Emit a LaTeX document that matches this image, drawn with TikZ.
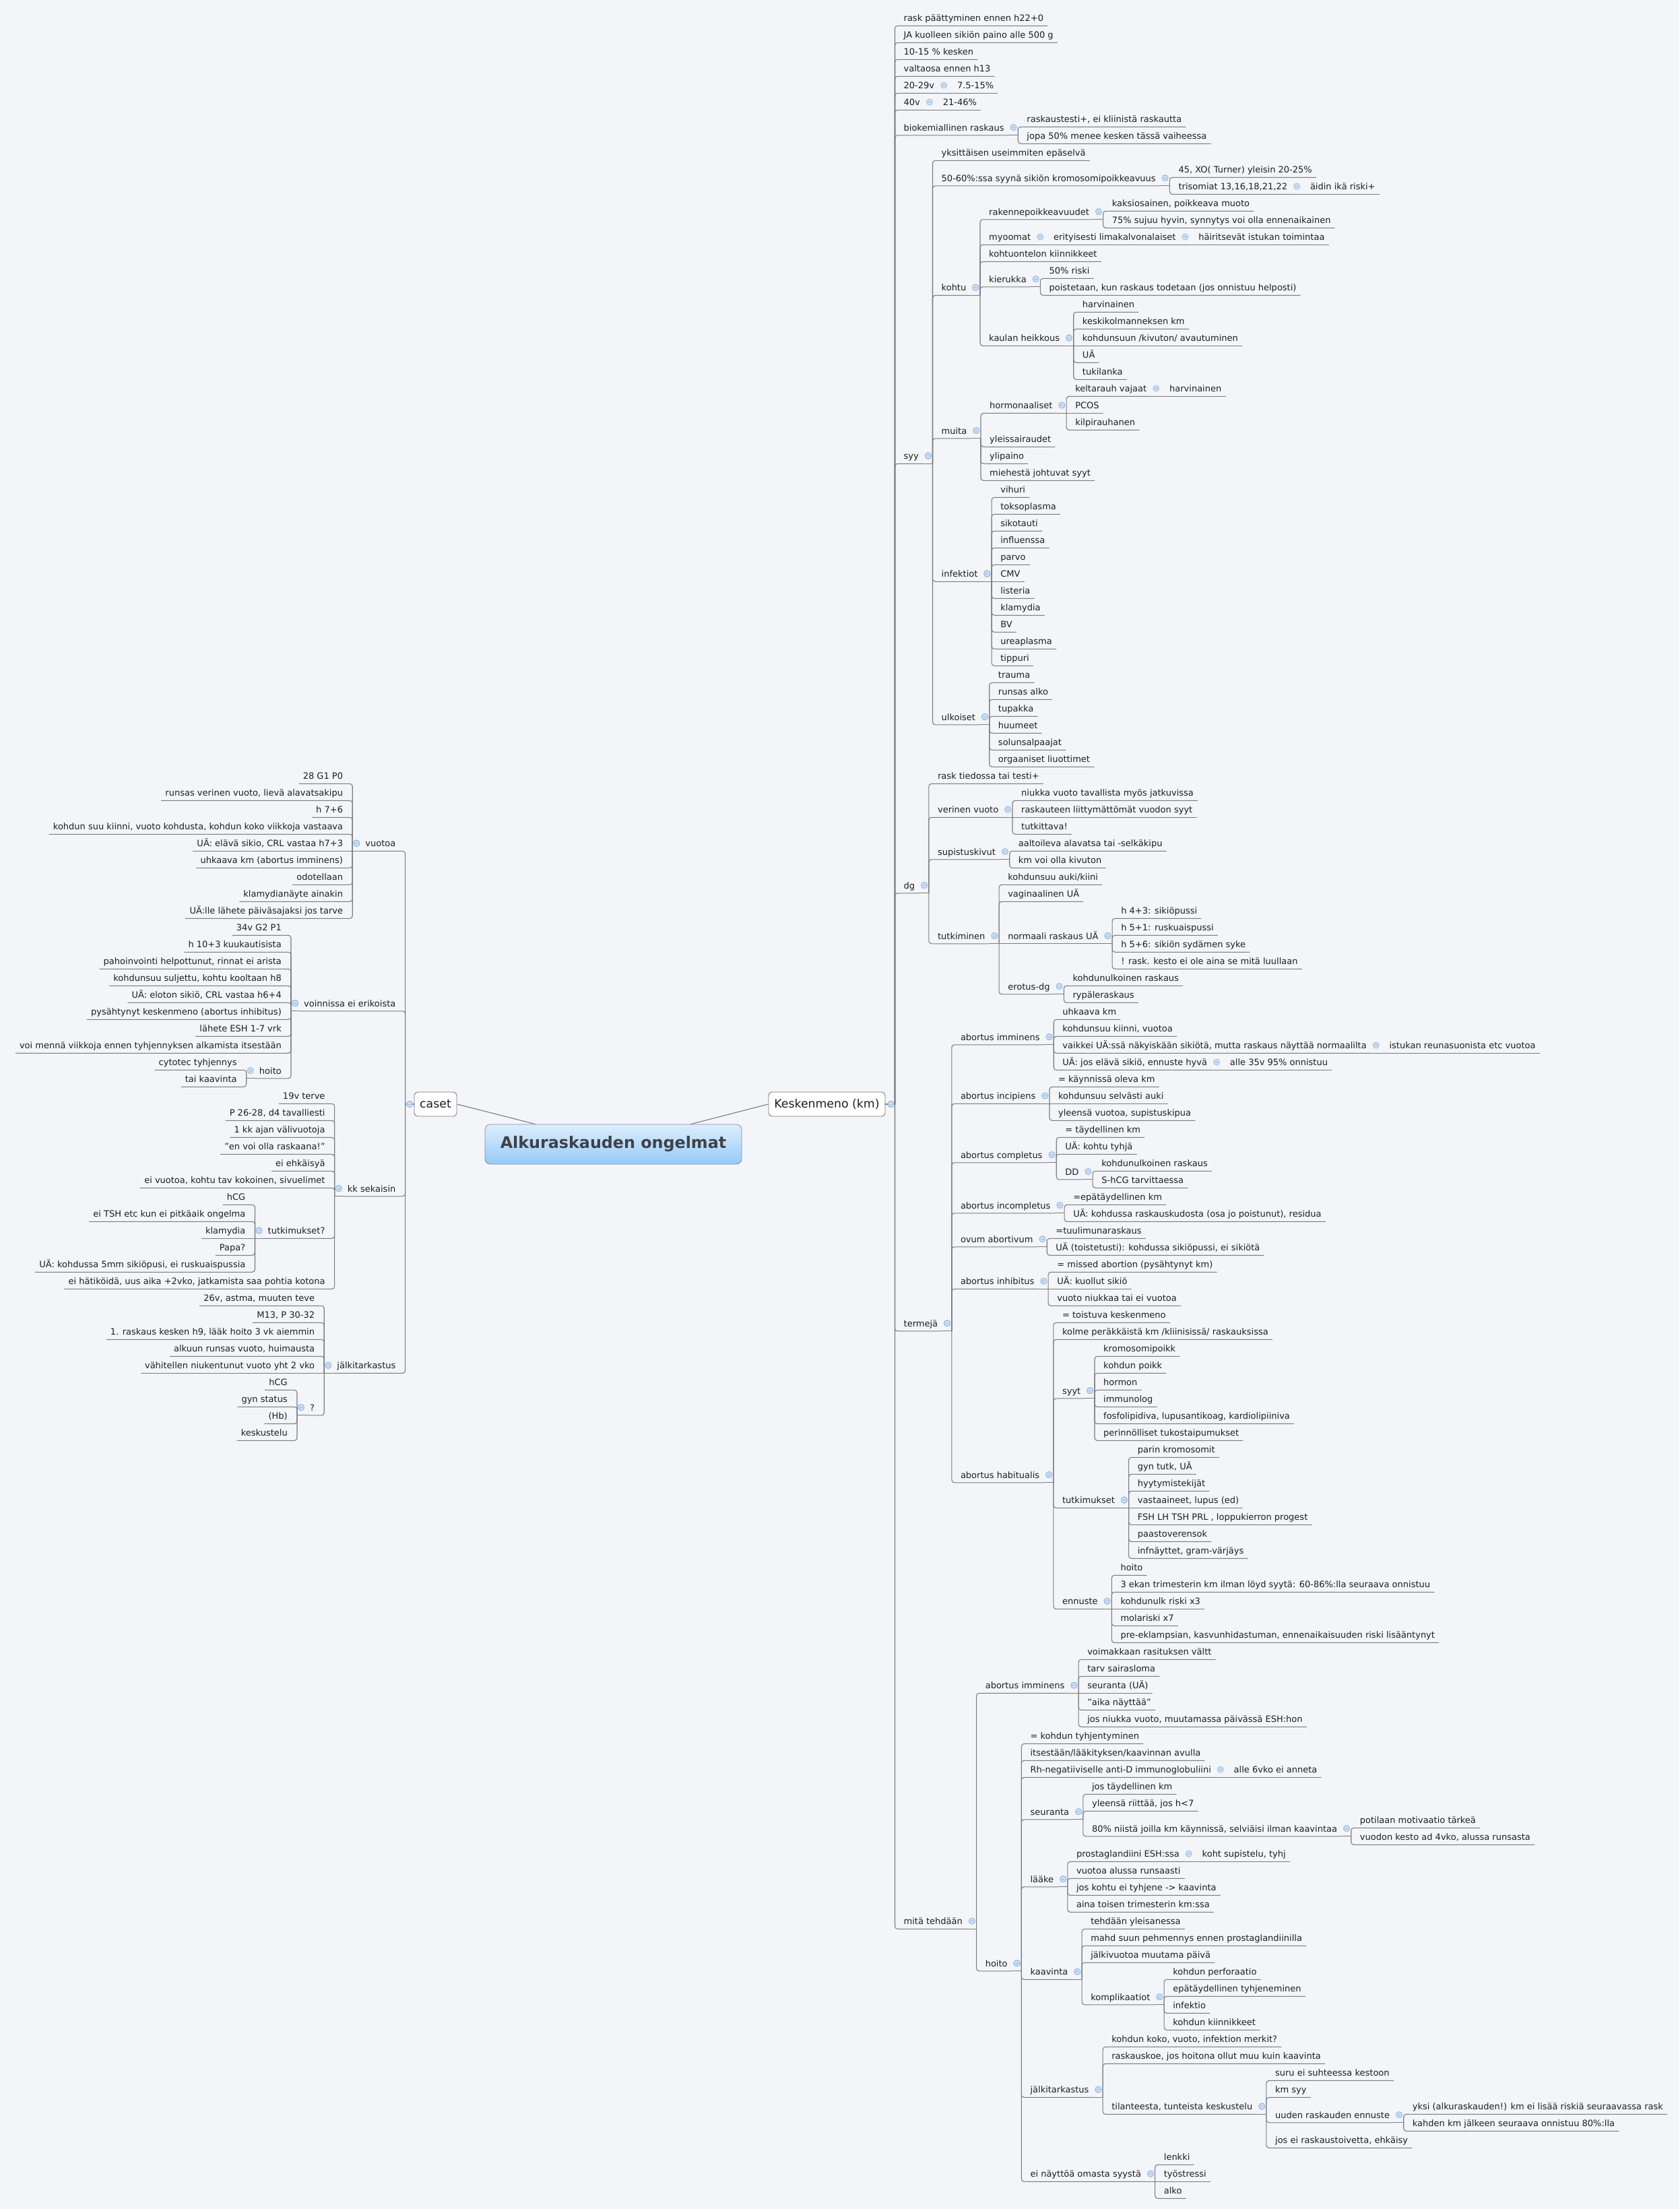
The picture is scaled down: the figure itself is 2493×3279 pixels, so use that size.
\documentclass[tikz,border=0pt]{standalone}
\usepackage{fontspec}
\setmainfont{DejaVu Sans}
\usetikzlibrary{calc}
\definecolor{bgcol}{RGB}{243,245,249}
\definecolor{lcol}{RGB}{125,125,125}
\definecolor{tcol}{RGB}{30,30,30}
\definecolor{mkfill}{RGB}{205,223,246}
\definecolor{mkdraw}{RGB}{150,180,224}
\definecolor{roottop}{RGB}{222,238,252}
\definecolor{rootbot}{RGB}{150,202,247}
\definecolor{rootdraw}{RGB}{115,145,180}
\definecolor{roottext}{RGB}{62,66,74}
\definecolor{boxdraw}{RGB}{120,120,120}
\tikzset{
 topic/.style={font=\fontsize{13.0pt}{16pt}\selectfont, inner sep=0pt, text=tcol},
 conn/.style={draw=lcol, line width=1.1pt},
 markc/.style={circle, inner sep=0pt, minimum size=9pt, fill=mkfill, draw=mkdraw, line width=0.7pt},
 rootbox/.style={rounded corners=8pt, top color=roottop, bottom color=rootbot, draw=rootdraw, line width=0.8pt, minimum width=381pt, minimum height=59pt, inner sep=0pt, font=\fontsize{23.8pt}{28pt}\selectfont\bfseries, text=roottext},
 topbox/.style={rounded corners=5pt, fill=white, draw=boxdraw, line width=0.9pt, minimum height=36pt, inner sep=0pt, font=\fontsize{17.3pt}{20pt}\selectfont, text=tcol}
}
\newcommand\mmlink[3]{%
  \ifdim #3pt=\csname kk#1\endcsname pt
    \draw[conn] (#1-b) -- (#2-u);
  \else
    \draw[conn,rounded corners=4pt] (#1-b) |- (#2-u);
  \fi
  \draw[conn] (#1-u) -- (#1-b);
  \node[markc] at (#1-c) {};
  \draw[mkdraw,line width=0.6pt] ($(#1-c)+(-2pt,0)$) -- ($(#1-c)+(2pt,0)$);
  \expandafter\gdef\csname kk#2\endcsname{#3}%
}
\newcommand\addR[4]{%
  \path let \p1=(#1-b) in node[topic,anchor=base west] (#2) at (\x1+13pt,{-(31.6+25*#3)*1pt}) {#4};
  \coordinate (#2-u) at ($(#2.base east)+(6pt,-6.7pt)$);
  \coordinate (#2-b) at ($(#2.base east)+(20.5pt,-6.7pt)$);
  \coordinate (#2-c) at ($(#2.base east)+(13.8pt,5pt)$);
  \mmlink{#1}{#2}{#3}%
}
\newcommand\addL[4]{%
  \path let \p1=(#1-b) in node[topic,anchor=base east] (#2) at (\x1-14pt,{-(31.6+25*#3)*1pt}) {#4};
  \coordinate (#2-u) at ($(#2.base west)+(-6pt,-6.7pt)$);
  \coordinate (#2-b) at ($(#2.base west)+(-19pt,-6.7pt)$);
  \coordinate (#2-c) at ($(#2.base west)+(-13pt,5pt)$);
  \mmlink{#1}{#2}{#3}%
}
\begin{document}
\begin{tikzpicture}
\fill[bgcol] (0pt,0pt) rectangle (2493pt,-3279pt);
\useasboundingbox (0pt,0pt) rectangle (2493pt,-3279pt);

\node[rootbox] (root) at (910.5pt,-1698.5pt) {Alkuraskauden ongelmat};
\node[topbox, minimum width=63pt] (cas) at (646.5pt,-1639pt) {caset};
\node[topbox, minimum width=173pt] (kes) at (1227.5pt,-1639pt) {Keskenmeno (km)};
\draw[conn] (cas.east) -- ($(root.north west)+(75pt,0)$);
\draw[conn] (kes.west) -- ($(root.north west)+(306pt,0)$);

\coordinate (K-u) at (kes.east);
\coordinate (K-b) at ($(kes.east)+(14pt,0)$);
\coordinate (K-c) at ($(kes.east)+(8pt,0)$);
\gdef\kkK{999}
\coordinate (C-u) at (cas.west);
\coordinate (C-b) at ($(cas.west)+(-13pt,0)$);
\coordinate (C-c) at ($(cas.west)+(-6.5pt,0)$);
\gdef\kkC{999}

% ---------------- right side ----------------
\addR{K}{r1}{0}{rask päättyminen ennen h22+0}
\addR{K}{r2}{1}{JA kuolleen sikiön paino alle 500 g}
\addR{K}{r3}{2}{10-15 \% kesken}
\addR{K}{r4}{3}{valtaosa ennen h13}
\addR{K}{r5}{4}{20-29v}
\addR{r5}{r5a}{4}{7.5-15\%}
\addR{K}{r6}{5}{40v}
\addR{r6}{r6a}{5}{21-46\%}
\addR{K}{r7}{6.5}{biokemiallinen raskaus}
\addR{r7}{r7a}{6}{raskaustesti+, ei kliinistä raskautta}
\addR{r7}{r7b}{7}{jopa 50\% menee kesken tässä vaiheessa}

\addR{K}{sy}{26}{syy}
\addR{sy}{syA}{8}{yksittäisen useimmiten epäselvä}
\addR{sy}{syB}{9.5}{50-60\%:ssa syynä sikiön kromosomipoikkeavuus}
\addR{syB}{syBa}{9}{45, XO( Turner) yleisin 20-25\%}
\addR{syB}{syBb}{10}{trisomiat 13,16,18,21,22}
\addR{syBb}{syBc}{10}{äidin ikä riski+}
\addR{sy}{ko}{16}{kohtu}
\addR{ko}{koA}{11.5}{rakennepoikkeavuudet}
\addR{koA}{koAa}{11}{kaksiosainen, poikkeava muoto}
\addR{koA}{koAb}{12}{75\% sujuu hyvin, synnytys voi olla ennenaikainen}
\addR{ko}{koB}{13}{myoomat}
\addR{koB}{koBa}{13}{erityisesti limakalvonalaiset}
\addR{koBa}{koBb}{13}{häiritsevät istukan toimintaa}
\addR{ko}{koC}{14}{kohtuontelon kiinnikkeet}
\addR{ko}{koD}{15.5}{kierukka}
\addR{koD}{koDa}{15}{50\% riski}
\addR{koD}{koDb}{16}{poistetaan, kun raskaus todetaan (jos onnistuu helposti)}
\addR{ko}{koE}{19}{kaulan heikkous}
\addR{koE}{koEa}{17}{harvinainen}
\addR{koE}{koEb}{18}{keskikolmanneksen km}
\addR{koE}{koEc}{19}{kohdunsuun /kivuton/ avautuminen}
\addR{koE}{koEd}{20}{UÄ}
\addR{koE}{koEe}{21}{tukilanka}
\addR{sy}{mu}{24.5}{muita}
\addR{mu}{muA}{23}{hormonaaliset}
\addR{muA}{muAa}{22}{keltarauh vajaat}
\addR{muAa}{muAb}{22}{harvinainen}
\addR{muA}{muAc}{23}{PCOS}
\addR{muA}{muAd}{24}{kilpirauhanen}
\addR{mu}{muB}{25}{yleissairaudet}
\addR{mu}{muC}{26}{ylipaino}
\addR{mu}{muD}{27}{miehestä johtuvat syyt}
\addR{sy}{inf}{33}{infektiot}
\addR{inf}{infa}{28}{vihuri}
\addR{inf}{infb}{29}{toksoplasma}
\addR{inf}{infc}{30}{sikotauti}
\addR{inf}{infd}{31}{influenssa}
\addR{inf}{infe}{32}{parvo}
\addR{inf}{inff}{33}{CMV}
\addR{inf}{infg}{34}{listeria}
\addR{inf}{infh}{35}{klamydia}
\addR{inf}{infi}{36}{BV}
\addR{inf}{infj}{37}{ureaplasma}
\addR{inf}{infk}{38}{tippuri}
\addR{sy}{ul}{41.5}{ulkoiset}
\addR{ul}{ula}{39}{trauma}
\addR{ul}{ulb}{40}{runsas alko}
\addR{ul}{ulc}{41}{tupakka}
\addR{ul}{uld}{42}{huumeet}
\addR{ul}{ule}{43}{solunsalpaajat}
\addR{ul}{ulf}{44}{orgaaniset liuottimet}

\addR{K}{dg}{51.5}{dg}
\addR{dg}{dgA}{45}{rask tiedossa tai testi+}
\addR{dg}{dgB}{47}{verinen vuoto}
\addR{dgB}{dgBa}{46}{niukka vuoto tavallista myös jatkuvissa}
\addR{dgB}{dgBb}{47}{raskauteen liittymättömät vuodon syyt}
\addR{dgB}{dgBc}{48}{tutkittava!}
\addR{dg}{dgC}{49.5}{supistuskivut}
\addR{dgC}{dgCa}{49}{aaltoileva alavatsa tai -selkäkipu}
\addR{dgC}{dgCb}{50}{km voi olla kivuton}
\addR{dg}{dgD}{54.5}{tutkiminen}
\addR{dgD}{dgDa}{51}{kohdunsuu auki/kiini}
\addR{dgD}{dgDb}{52}{vaginaalinen UÄ}
\addR{dgD}{dgDc}{54.5}{normaali raskaus UÄ}
\addR{dgDc}{nrA}{53}{h 4+3: sikiöpussi}
\addR{dgDc}{nrB}{54}{h 5+1: ruskuaispussi}
\addR{dgDc}{nrC}{55}{h 5+6: sikiön sydämen syke}
\addR{dgDc}{nrD}{56}{! rask. kesto ei ole aina se mitä luullaan}
\addR{dgD}{dgDd}{57.5}{erotus-dg}
\addR{dgDd}{edA}{57}{kohdunulkoinen raskaus}
\addR{dgDd}{edB}{58}{rypäleraskaus}

\addR{K}{te}{77.5}{termejä}
\addR{te}{tA}{60.5}{abortus imminens}
\addR{tA}{tAa}{59}{uhkaava km}
\addR{tA}{tAb}{60}{kohdunsuu kiinni, vuotoa}
\addR{tA}{tAc}{61}{vaikkei UÄ:ssä näkyiskään sikiötä, mutta raskaus näyttää normaalilta}
\addR{tAc}{tAd}{61}{istukan reunasuonista etc vuotoa}
\addR{tA}{tAe}{62}{UÄ: jos elävä sikiö, ennuste hyvä}
\addR{tAe}{tAf}{62}{alle 35v 95\% onnistuu}
\addR{te}{tB}{64}{abortus incipiens}
\addR{tB}{tBa}{63}{= käynnissä oleva km}
\addR{tB}{tBb}{64}{kohdunsuu selvästi auki}
\addR{tB}{tBc}{65}{yleensä vuotoa, supistuskipua}
\addR{te}{tC}{67.5}{abortus completus}
\addR{tC}{tCa}{66}{= täydellinen km}
\addR{tC}{tCb}{67}{UÄ: kohtu tyhjä}
\addR{tC}{tCc}{68.5}{DD}
\addR{tCc}{tCd}{68}{kohdunulkoinen raskaus}
\addR{tCc}{tCe}{69}{S-hCG tarvittaessa}
\addR{te}{tD}{70.5}{abortus incompletus}
\addR{tD}{tDa}{70}{=epätäydellinen km}
\addR{tD}{tDb}{71}{UÄ: kohdussa raskauskudosta (osa jo poistunut), residua}
\addR{te}{tE}{72.5}{ovum abortivum}
\addR{tE}{tEa}{72}{=tuulimunaraskaus}
\addR{tE}{tEb}{73}{UÄ (toistetusti): kohdussa sikiöpussi, ei sikiötä}
\addR{te}{tF}{75}{abortus inhibitus}
\addR{tF}{tFa}{74}{= missed abortion (pysähtynyt km)}
\addR{tF}{tFb}{75}{UÄ: kuollut sikiö}
\addR{tF}{tFc}{76}{vuoto niukkaa tai ei vuotoa}
\addR{te}{tG}{86.5}{abortus habitualis}
\addR{tG}{tGa}{77}{= toistuva keskenmeno}
\addR{tG}{tGb}{78}{kolme peräkkäistä km /kliinisissä/ raskauksissa}
\addR{tG}{tGs}{81.5}{syyt}
\addR{tGs}{tGsa}{79}{kromosomipoikk}
\addR{tGs}{tGsb}{80}{kohdun poikk}
\addR{tGs}{tGsc}{81}{hormon}
\addR{tGs}{tGsd}{82}{immunolog}
\addR{tGs}{tGse}{83}{fosfolipidiva, lupusantikoag, kardiolipiiniva}
\addR{tGs}{tGsf}{84}{perinnölliset tukostaipumukset}
\addR{tG}{tGt}{88}{tutkimukset}
\addR{tGt}{tGta}{85}{parin kromosomit}
\addR{tGt}{tGtb}{86}{gyn tutk, UÄ}
\addR{tGt}{tGtc}{87}{hyytymistekijät}
\addR{tGt}{tGtd}{88}{vastaaineet, lupus (ed)}
\addR{tGt}{tGte}{89}{FSH LH TSH PRL , loppukierron progest}
\addR{tGt}{tGtf}{90}{paastoverensok}
\addR{tGt}{tGtg}{91}{infnäyttet, gram-värjäys}
\addR{tG}{tGe}{94}{ennuste}
\addR{tGe}{tGea}{92}{hoito}
\addR{tGe}{tGeb}{93}{3 ekan trimesterin km ilman löyd syytä: 60-86\%:lla seuraava onnistuu}
\addR{tGe}{tGec}{94}{kohdunulk riski x3}
\addR{tGe}{tGed}{95}{molariski x7}
\addR{tGe}{tGee}{96}{pre-eklampsian, kasvunhidastuman, ennenaikaisuuden riski lisääntynyt}

\addR{K}{mt}{113}{mitä tehdään}
\addR{mt}{mA}{99}{abortus imminens}
\addR{mA}{mAa}{97}{voimakkaan rasituksen vältt}
\addR{mA}{mAb}{98}{tarv sairasloma}
\addR{mA}{mAc}{99}{seuranta (UÄ)}
\addR{mA}{mAd}{100}{"aika näyttää"}
\addR{mA}{mAe}{101}{jos niukka vuoto, muutamassa päivässä ESH:hon}
\addR{mt}{mH}{115.5}{hoito}
\addR{mH}{hA}{102}{= kohdun tyhjentyminen}
\addR{mH}{hB}{103}{itsestään/lääkityksen/kaavinnan avulla}
\addR{mH}{hC}{104}{Rh-negatiiviselle anti-D immunoglobuliini}
\addR{hC}{hCa}{104}{alle 6vko ei anneta}
\addR{mH}{hS}{106.5}{seuranta}
\addR{hS}{hSa}{105}{jos täydellinen km}
\addR{hS}{hSb}{106}{yleensä riittää, jos h<7}
\addR{hS}{hSc}{107.5}{80\% niistä joilla km käynnissä, selviäisi ilman kaavintaa}
\addR{hSc}{hSd}{107}{potilaan motivaatio tärkeä}
\addR{hSc}{hSe}{108}{vuodon kesto ad 4vko, alussa runsasta}
\addR{mH}{hL}{110.5}{lääke}
\addR{hL}{hLa}{109}{prostaglandiini ESH:ssa}
\addR{hLa}{hLb}{109}{koht supistelu, tyhj}
\addR{hL}{hLc}{110}{vuotoa alussa runsaasti}
\addR{hL}{hLd}{111}{jos kohtu ei tyhjene -> kaavinta}
\addR{hL}{hLe}{112}{aina toisen trimesterin km:ssa}
\addR{mH}{hK}{116}{kaavinta}
\addR{hK}{hKa}{113}{tehdään yleisanessa}
\addR{hK}{hKb}{114}{mahd suun pehmennys ennen prostaglandiinilla}
\addR{hK}{hKc}{115}{jälkivuotoa muutama päivä}
\addR{hK}{hKk}{117.5}{komplikaatiot}
\addR{hKk}{hKka}{116}{kohdun perforaatio}
\addR{hKk}{hKkb}{117}{epätäydellinen tyhjeneminen}
\addR{hKk}{hKkc}{118}{infektio}
\addR{hKk}{hKkd}{119}{kohdun kiinnikkeet}
\addR{mH}{hJ}{123}{jälkitarkastus}
\addR{hJ}{hJa}{120}{kohdun koko, vuoto, infektion merkit?}
\addR{hJ}{hJb}{121}{raskauskoe, jos hoitona ollut muu kuin kaavinta}
\addR{hJ}{hJt}{124}{tilanteesta, tunteista keskustelu}
\addR{hJt}{hJta}{122}{suru ei suhteessa kestoon}
\addR{hJt}{hJtb}{123}{km syy}
\addR{hJt}{hJu}{124.5}{uuden raskauden ennuste}
\addR{hJu}{hJua}{124}{yksi (alkuraskauden!) km ei lisää riskiä seuraavassa rask}
\addR{hJu}{hJub}{125}{kahden km jälkeen seuraava onnistuu 80\%:lla}
\addR{hJt}{hJtc}{126}{jos ei raskaustoivetta, ehkäisy}
\addR{mH}{hN}{128}{ei näyttöä omasta syystä}
\addR{hN}{hNa}{127}{lenkki}
\addR{hN}{hNb}{128}{työstressi}
\addR{hN}{hNc}{129}{alko}

% ---------------- left side ----------------
\addL{C}{Lv}{49}{vuotoa}
\addL{Lv}{Lva}{45}{28 G1 P0}
\addL{Lv}{Lvb}{46}{runsas verinen vuoto, lievä alavatsakipu}
\addL{Lv}{Lvc}{47}{h 7+6}
\addL{Lv}{Lvd}{48}{kohdun suu kiinni, vuoto kohdusta, kohdun koko viikkoja vastaava}
\addL{Lv}{Lve}{49}{UÄ: elävä sikio, CRL vastaa h7+3}
\addL{Lv}{Lvf}{50}{uhkaava km (abortus imminens)}
\addL{Lv}{Lvg}{51}{odotellaan}
\addL{Lv}{Lvh}{52}{klamydianäyte ainakin}
\addL{Lv}{Lvi}{53}{UÄ:lle lähete päiväsajaksi jos tarve}
\addL{C}{Lw}{58.5}{voinnissa ei erikoista}
\addL{Lw}{Lwa}{54}{34v G2 P1}
\addL{Lw}{Lwb}{55}{h 10+3 kuukautisista}
\addL{Lw}{Lwc}{56}{pahoinvointi helpottunut, rinnat ei arista}
\addL{Lw}{Lwd}{57}{kohdunsuu suljettu, kohtu kooltaan h8}
\addL{Lw}{Lwe}{58}{UÄ: eloton sikiö, CRL vastaa h6+4}
\addL{Lw}{Lwf}{59}{pysähtynyt keskenmeno (abortus inhibitus)}
\addL{Lw}{Lwg}{60}{lähete ESH 1-7 vrk}
\addL{Lw}{Lwh}{61}{voi mennä viikkoja ennen tyhjennyksen alkamista itsestään}
\addL{Lw}{Lwi}{62.5}{hoito}
\addL{Lwi}{Lwia}{62}{cytotec tyhjennys}
\addL{Lwi}{Lwib}{63}{tai kaavinta}
\addL{C}{Lx}{69.5}{kk sekaisin}
\addL{Lx}{Lxa}{64}{19v terve}
\addL{Lx}{Lxb}{65}{P 26-28, d4 tavalliesti}
\addL{Lx}{Lxc}{66}{1 kk ajan välivuotoja}
\addL{Lx}{Lxd}{67}{"en voi olla raskaana!"}
\addL{Lx}{Lxe}{68}{ei ehkäisyä}
\addL{Lx}{Lxf}{69}{ei vuotoa, kohtu tav kokoinen, sivuelimet}
\addL{Lx}{Lxt}{72}{tutkimukset?}
\addL{Lxt}{Lxta}{70}{hCG}
\addL{Lxt}{Lxtb}{71}{ei TSH etc kun ei pitkäaik ongelma}
\addL{Lxt}{Lxtc}{72}{klamydia}
\addL{Lxt}{Lxtd}{73}{Papa?}
\addL{Lxt}{Lxte}{74}{UÄ: kohdussa 5mm sikiöpusi, ei ruskuaispussia}
\addL{Lx}{Lxg}{75}{ei hätiköidä, uus aika +2vko, jatkamista saa pohtia kotona}
\addL{C}{Lz}{80}{jälkitarkastus}
\addL{Lz}{Lza}{76}{26v, astma, muuten teve}
\addL{Lz}{Lzb}{77}{M13, P 30-32}
\addL{Lz}{Lzc}{78}{1. raskaus kesken h9, lääk hoito 3 vk aiemmin}
\addL{Lz}{Lzd}{79}{alkuun runsas vuoto, huimausta}
\addL{Lz}{Lze}{80}{vähitellen niukentunut vuoto yht 2 vko}
\addL{Lz}{Lzq}{82.5}{?}
\addL{Lzq}{Lzqa}{81}{hCG}
\addL{Lzq}{Lzqb}{82}{gyn status}
\addL{Lzq}{Lzqc}{83}{(Hb)}
\addL{Lzq}{Lzqd}{84}{keskustelu}
\end{tikzpicture}
\end{document}
